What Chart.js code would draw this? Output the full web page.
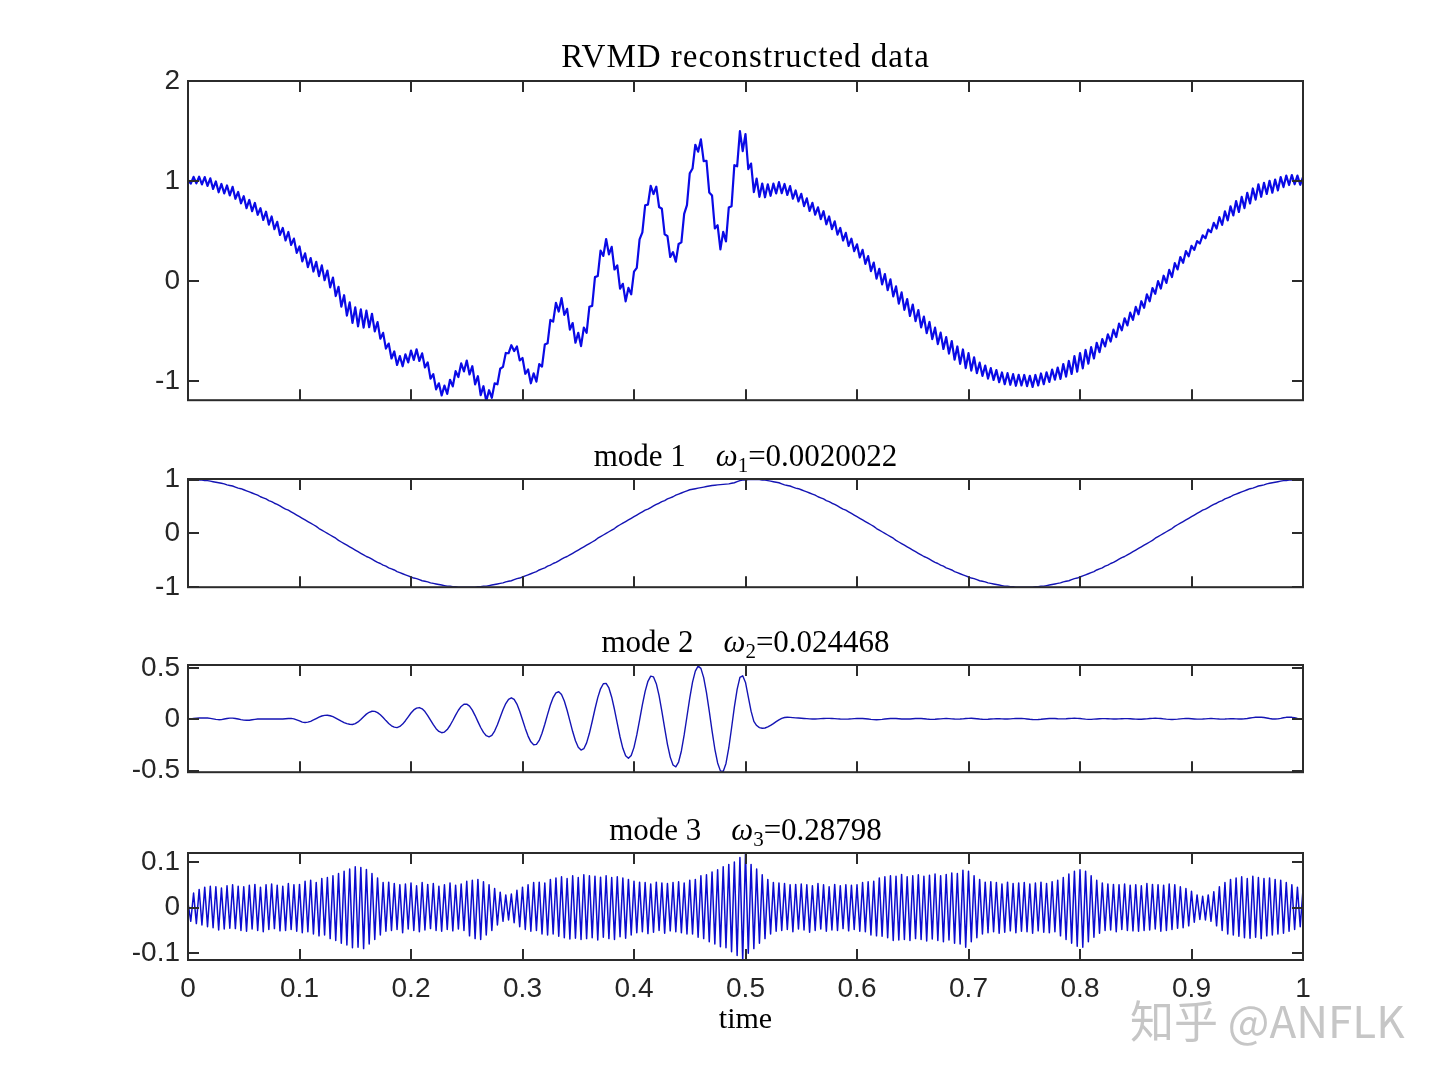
<!DOCTYPE html>
<html>
<head>
<meta charset="utf-8">
<script src="https://cdn.jsdelivr.net/npm/chart.js@4.4.0/dist/chart.umd.min.js"></script>
<style>
  html, body { margin: 0; padding: 0; background: #fff; }
  #fig { position: relative; width: 1440px; height: 1080px; overflow: hidden; }
  #fig canvas { position: absolute; left: 0; }
  #mark { position: absolute; left: 1130px; top: 995px; font-family: "Noto Sans CJK SC", sans-serif;
          font-size: 44px; line-height: 48px; color: #c6c6c6; white-space: nowrap; }
</style>
</head>
<body>
<div id="fig">
  <canvas id="c0"></canvas>
  <canvas id="c1"></canvas>
  <canvas id="c2"></canvas>
  <canvas id="c3"></canvas>
  <div id="mark">知乎 @ANFLK</div>
</div>
<script>
// sample spacing of the time axis (401 samples from 0 to 1)
const dt = 0.0025;

// mode 1 (slow cosine)
const mode1 = [
  1.00,1.00,1.00,1.00,0.99,0.99,0.98,0.98,0.97,0.96,0.95,0.94,0.93,0.92,0.90,0.89,0.88,0.86,0.84,0.83,
  0.81,0.79,0.77,0.75,0.73,0.71,0.68,0.66,0.64,0.61,0.59,0.56,0.54,0.51,0.48,0.45,0.43,0.40,0.37,0.34,
  0.31,0.28,0.25,0.22,0.19,0.16,0.13,0.09,0.06,0.03,0.00,
  -0.03,-0.06,-0.09,-0.13,-0.16,-0.19,-0.22,-0.25,-0.28,-0.31,-0.34,-0.37,-0.40,-0.43,-0.45,-0.48,-0.51,-0.54,-0.56,-0.59,
  -0.61,-0.64,-0.66,-0.68,-0.71,-0.73,-0.75,-0.77,-0.79,-0.81,-0.83,-0.84,-0.86,-0.88,-0.89,-0.90,-0.92,-0.93,-0.94,-0.95,
  -0.96,-0.97,-0.98,-0.98,-0.99,-0.99,-1.00,-1.00,-1.00,-1.00,
  -1.00,-1.00,-1.00,-0.99,-0.99,-0.98,-0.98,-0.97,-0.96,-0.95,-0.94,-0.93,-0.92,-0.90,-0.89,-0.88,-0.86,-0.84,-0.83,-0.81,
  -0.79,-0.77,-0.75,-0.73,-0.71,-0.68,-0.66,-0.64,-0.61,-0.59,-0.56,-0.54,-0.51,-0.48,-0.45,-0.43,-0.40,-0.37,-0.34,-0.31,
  -0.28,-0.25,-0.22,-0.19,-0.16,-0.13,-0.09,-0.06,-0.03,0.00,
  0.03,0.06,0.09,0.13,0.16,0.19,0.22,0.25,0.28,0.31,0.34,0.37,0.40,0.43,0.45,0.48,0.51,0.54,0.56,0.59,
  0.61,0.64,0.66,0.68,0.71,0.73,0.75,0.77,0.79,
  0.81,0.82,0.83,0.84,0.85,0.86,0.87,0.88,0.89,0.895,0.90,0.905,0.91,0.915,0.92,0.93,0.94,0.96,0.98,0.99,
  0.99,1.00,1.00,1.00,1.00,1.00,0.99,0.99,0.98,0.97,0.96,0.95,0.94,0.92,0.90,0.89,0.88,
  0.86,0.84,0.83,0.81,0.79,0.77,0.75,0.73,0.71,0.68,0.66,0.64,0.61,0.59,0.56,0.54,0.51,0.48,0.45,0.43,
  0.40,0.37,0.34,0.31,0.28,0.25,0.22,0.19,0.16,0.13,0.09,0.06,0.03,0.00,
  -0.03,-0.06,-0.09,-0.13,-0.16,-0.19,-0.22,-0.25,-0.28,-0.31,-0.34,-0.37,-0.40,-0.43,-0.45,-0.48,-0.51,-0.54,-0.56,-0.59,
  -0.61,-0.64,-0.66,-0.68,-0.71,-0.73,-0.75,-0.77,-0.79,-0.81,-0.83,-0.84,-0.86,-0.88,-0.89,-0.90,-0.92,-0.93,-0.94,-0.95,
  -0.96,-0.97,-0.98,-0.98,-0.99,-0.99,-1.00,-1.00,-1.00,-1.00,
  -1.00,-1.00,-1.00,-0.99,-0.99,-0.98,-0.98,-0.97,-0.96,-0.95,-0.94,-0.93,-0.92,-0.90,-0.89,-0.88,-0.86,-0.84,-0.83,-0.81,
  -0.79,-0.77,-0.75,-0.73,-0.71,-0.68,-0.66,-0.64,-0.61,-0.59,-0.56,-0.54,-0.51,-0.48,-0.45,-0.43,-0.40,-0.37,-0.34,-0.31,
  -0.28,-0.25,-0.22,-0.19,-0.16,-0.13,-0.09,-0.06,-0.03,0.00,
  0.03,0.06,0.09,0.13,0.16,0.19,0.22,0.25,0.28,0.31,0.34,0.37,0.40,0.43,0.45,0.48,0.51,0.54,0.56,0.59,
  0.61,0.64,0.66,0.68,0.71,0.73,0.75,0.77,0.79,0.81,0.83,0.84,0.86,0.88,0.89,0.90,0.92,0.93,0.94,0.95,
  0.96,0.97,0.98,0.98,0.99,0.99,1.00,1.00,1.00,1.00
];

// mode 2 (burst growing up to t = 0.5)
const mode2 = [
  0.0,0.005,0.01,0.012,0.013,0.014,0.015,0.013,0.01,0.005,0.0,-0.003,-0.002,0.003,0.008,0.012,0.012,0.009,0.004,-0.002,
  -0.007,-0.009,-0.008,-0.004,0.0,0.003,0.004,0.005,0.004,0.003,0.004,0.005,0.004,0.003,0.004,0.006,0.008,0.01,0.005,-0.005,
  -0.015,-0.027,-0.03,-0.027,-0.019,-0.006,0.008,0.022,0.033,0.039,0.04,0.035,0.026,0.013,-0.002,-0.017,-0.031,-0.042,-0.048,-0.05,
  -0.042,-0.025,-0.001,0.026,0.051,0.069,0.079,0.078,0.066,0.045,0.018,-0.012,-0.04,-0.063,-0.076,-0.08,-0.069,-0.046,-0.013,0.025,
  0.062,0.092,0.11,0.115,0.103,0.076,0.037,-0.008,-0.052,-0.091,-0.118,-0.13,-0.124,-0.099,-0.06,-0.011,0.041,0.089,0.126,0.147,
  0.148,0.129,0.09,0.037,-0.022,-0.079,-0.127,-0.159,-0.17,-0.156,-0.114,-0.053,0.02,0.093,0.154,0.196,0.21,0.194,0.149,0.08,
  -0.003,-0.088,-0.163,-0.219,-0.247,-0.244,-0.205,-0.136,-0.048,0.049,0.14,0.213,0.259,0.269,0.242,0.179,0.089,-0.015,-0.119,-0.209,
  -0.272,-0.299,-0.286,-0.229,-0.136,-0.021,0.101,0.212,0.298,0.347,0.351,0.306,0.216,0.096,-0.04,-0.172,-0.282,-0.355,-0.38,-0.352,
  -0.273,-0.152,-0.008,0.141,0.273,0.371,0.421,0.414,0.348,0.231,0.079,-0.086,-0.243,-0.368,-0.445,-0.463,-0.416,-0.308,-0.152,0.028,
  0.207,0.363,0.471,0.519,0.497,0.407,0.261,0.08,-0.113,-0.289,-0.425,-0.502,-0.508,-0.43,-0.279,-0.084,0.119,0.292,0.41,0.425,
  0.36,0.22,0.08,-0.02,-0.06,-0.08,-0.087,-0.084,-0.074,-0.059,-0.041,-0.022,-0.005,0.009,0.018,0.02,0.019,0.017,0.015,0.013,
  0.011,0.009,0.007,0.005,0.004,0.004,0.005,0.007,0.009,0.01,0.01,0.009,0.007,0.005,0.003,0.002,0.002,0.003,0.005,0.007,
  0.008,0.009,0.008,0.006,0.003,0.0,-0.002,-0.003,-0.002,0.0,0.003,0.006,0.008,0.009,0.008,0.006,0.004,0.003,0.003,0.004,
  0.006,0.008,0.009,0.008,0.006,0.003,0.001,0.0,0.001,0.003,0.005,0.007,0.008,0.007,0.005,0.003,0.002,0.003,0.005,0.008,
  0.01,0.011,0.009,0.006,0.003,0.001,0.0,0.001,0.003,0.005,0.006,0.006,0.005,0.004,0.004,0.005,0.007,0.009,0.01,0.009,
  0.007,0.004,0.001,-0.001,-0.002,-0.001,0.001,0.004,0.006,0.008,0.009,0.008,0.006,0.005,0.005,0.006,0.008,0.01,0.011,0.01,
  0.008,0.005,0.002,0.0,0.0,0.002,0.004,0.006,0.007,0.007,0.006,0.005,0.004,0.004,0.005,0.006,0.007,0.007,0.006,0.004,
  0.002,0.001,0.001,0.003,0.005,0.008,0.01,0.011,0.01,0.008,0.005,0.002,0.0,-0.001,0.0,0.002,0.005,0.007,0.008,0.008,
  0.006,0.004,0.002,0.002,0.003,0.005,0.007,0.008,0.007,0.005,0.003,0.002,0.003,0.005,0.006,0.006,0.005,0.004,0.004,0.006,
  0.009,0.013,0.017,0.02,0.022,0.021,0.018,0.013,0.008,0.004,0.003,0.005,0.01,0.016,0.02,0.022,0.02,0.016,0.01,0.005,
  0.0
];

// mode 3 (fast oscillation)
const mode3 = [
  0.01,-0.03,0.032,-0.035,0.04,-0.038,0.045,-0.042,0.047,-0.044,0.046,-0.049,0.043,-0.047,0.048,-0.045,0.05,-0.046,0.047,-0.05,
  0.046,-0.052,0.049,-0.047,0.051,-0.05,0.045,-0.053,0.05,-0.048,0.052,-0.046,0.049,-0.051,0.047,-0.05,0.053,-0.048,0.05,-0.052,
  0.051,-0.055,0.058,-0.053,0.06,-0.058,0.055,-0.062,0.064,-0.06,0.066,-0.068,0.07,-0.072,0.075,-0.078,0.08,-0.082,0.085,-0.088,
  0.09,-0.087,0.088,-0.09,0.084,-0.08,0.075,-0.07,0.065,-0.06,0.055,-0.052,0.056,-0.05,0.053,-0.048,0.05,-0.055,0.052,-0.047,
  0.054,-0.05,0.048,-0.053,0.055,-0.049,0.051,-0.046,0.053,-0.05,0.047,-0.052,0.05,-0.048,0.054,-0.051,0.049,-0.047,0.052,-0.05,
  0.058,-0.062,0.06,-0.068,0.062,-0.07,0.057,-0.06,0.05,-0.05,0.042,-0.038,0.034,-0.03,0.028,-0.027,0.03,-0.033,0.038,-0.042,
  0.045,-0.048,0.05,-0.052,0.055,-0.05,0.056,-0.058,0.054,-0.06,0.062,-0.058,0.065,-0.063,0.068,-0.066,0.064,-0.069,0.07,-0.067,
  0.066,-0.07,0.072,-0.068,0.07,-0.066,0.069,-0.071,0.067,-0.065,0.07,-0.068,0.066,-0.07,0.068,-0.064,0.065,-0.067,0.062,-0.06,
  0.058,-0.055,0.056,-0.053,0.055,-0.057,0.052,-0.054,0.056,-0.05,0.054,-0.056,0.053,-0.051,0.055,-0.053,0.057,-0.055,0.054,-0.058,
  0.06,-0.058,0.062,-0.065,0.07,-0.068,0.072,-0.075,0.078,-0.08,0.083,-0.086,0.09,-0.088,0.095,-0.097,0.1,-0.105,0.11,-0.115,
  0.12,-0.1,0.095,-0.09,0.085,-0.078,0.072,-0.068,0.062,-0.058,0.055,-0.052,0.054,-0.05,0.053,-0.048,0.05,-0.053,0.051,-0.047,
  0.052,-0.049,0.05,-0.054,0.048,-0.05,0.053,-0.047,0.05,-0.052,0.046,-0.049,0.051,-0.05,0.048,-0.046,0.05,-0.051,0.049,-0.048,
  0.05,-0.052,0.055,-0.053,0.057,-0.06,0.058,-0.062,0.065,-0.063,0.068,-0.066,0.07,-0.072,0.069,-0.071,0.073,-0.07,0.068,-0.072,
  0.07,-0.068,0.072,-0.07,0.069,-0.073,0.071,-0.069,0.074,-0.072,0.07,-0.075,0.073,-0.071,0.076,-0.078,0.075,-0.08,0.082,-0.087,
  0.08,-0.075,0.07,-0.066,0.062,-0.058,0.056,-0.055,0.057,-0.053,0.055,-0.056,0.052,-0.054,0.056,-0.051,0.053,-0.055,0.054,-0.052,
  0.055,-0.053,0.052,-0.056,0.054,-0.051,0.056,-0.054,0.053,-0.055,0.057,-0.053,0.06,-0.062,0.066,-0.07,0.074,-0.078,0.08,-0.085,
  0.083,-0.087,0.08,-0.075,0.07,-0.065,0.06,-0.056,0.054,-0.05,0.052,-0.049,0.051,-0.053,0.05,-0.048,0.052,-0.05,0.049,-0.051,
  0.05,-0.052,0.048,-0.05,0.053,-0.049,0.051,-0.047,0.05,-0.052,0.049,-0.05,0.052,-0.048,0.05,-0.045,0.046,-0.044,0.042,-0.04,
  0.036,-0.032,0.028,-0.026,0.025,-0.027,0.028,-0.03,0.035,-0.04,0.046,-0.05,0.055,-0.058,0.062,-0.06,0.065,-0.063,0.068,-0.066,
  0.064,-0.067,0.069,-0.065,0.066,-0.068,0.064,-0.062,0.065,-0.06,0.062,-0.058,0.06,-0.056,0.055,-0.052,0.05,-0.048,0.045,-0.042,
  0.04
];

// tick labels
const timeTicks = [0, 0.1, 0.2, 0.3, 0.4, 0.5, 0.6, 0.7, 0.8, 0.9, 1];
const reconTicks = [-1, 0, 1, 2];
const mode1Ticks = [-1, 0, 1];
const mode2Ticks = [-0.5, 0, 0.5];
const mode3Ticks = [-0.1, 0, 0.1];

// titles
const mainTitle = 'RVMD reconstructed data';
const modeNames = ['mode 1', 'mode 2', 'mode 3'];
const omegas = ['0.0020022', '0.024468', '0.28798'];
const xTitle = 'time';

// the reconstructed signal is the sum of the three modes
const recon = mode1.map((v, i) => v + mode2[i] + mode3[i]);

const SERIF = '"Liberation Serif", "DejaVu Serif", serif';
const SANS = '"Liberation Sans", Arial, sans-serif';
const AXIS = '#2b2b2b';
const TICK = 11;

// box around the axes with inward tick marks on all four sides
const boxPlugin = {
  id: 'matlabBox',
  afterDatasetsDraw(chart) {
    const { ctx, chartArea: a, scales } = chart;
    ctx.save();
    ctx.strokeStyle = AXIS;
    ctx.lineWidth = 2;
    ctx.beginPath();
    scales.x.ticks.forEach(t => {
      const px = Math.round(scales.x.getPixelForValue(t.value));
      ctx.moveTo(px, a.top); ctx.lineTo(px, a.top + TICK);
      ctx.moveTo(px, a.bottom); ctx.lineTo(px, a.bottom - TICK);
    });
    scales.y.ticks.forEach(t => {
      const py = Math.round(scales.y.getPixelForValue(t.value));
      ctx.moveTo(a.left, py); ctx.lineTo(a.left + TICK, py);
      ctx.moveTo(a.right, py); ctx.lineTo(a.right - TICK, py);
    });
    ctx.stroke();
    ctx.strokeRect(a.left, a.top, a.right - a.left, a.bottom - a.top);
    ctx.restore();
  }
};

// title made of pieces (regular, italic, subscript)
const titlePlugin = {
  id: 'pieceTitle',
  afterDraw(chart, args, opts) {
    const { ctx, chartArea: a } = chart;
    ctx.save();
    ctx.fillStyle = '#000';
    ctx.textBaseline = 'alphabetic';
    ctx.letterSpacing = opts.spacing || '0px';
    let total = 0;
    opts.parts.forEach(p => {
      if (p.gap) { p.w = p.gap; }
      else { ctx.font = p.font; p.w = ctx.measureText(p.text).width; }
      total += p.w;
    });
    let x = (a.left + a.right) / 2 - total / 2;
    const y = a.top - opts.offset;
    opts.parts.forEach(p => {
      if (!p.gap) {
        ctx.font = p.font;
        ctx.fillText(p.text, x, y + (p.dy || 0));
      }
      x += p.w;
    });
    if (opts.xTitle) {
      ctx.letterSpacing = '0px';
      ctx.font = '30px ' + SERIF;
      ctx.textAlign = 'center';
      ctx.fillText(opts.xTitle, (a.left + a.right) / 2, a.bottom + 68);
    }
    ctx.restore();
  }
};

function modeTitle(i) {
  return [
    { text: modeNames[i], font: '31px ' + SERIF },
    { gap: 30 },
    { text: 'ω', font: 'italic 31px ' + SERIF },
    { text: String(i + 1), font: '21px ' + SERIF, dy: 6 },
    { text: '=' + omegas[i], font: '31px ' + SERIF }
  ];
}

const panels = [
  { id: 'c0', top: 81, bottom: 401, ymin: -1.19, ymax: 2, ticks: reconTicks, values: recon, lw: 2.2,
    color: '#0a0ae6', title: [{ text: mainTitle, font: '33px ' + SERIF }], offset: 14, spacing: '1px' },
  { id: 'c1', top: 479, bottom: 588, ymin: -1.0, ymax: 1.01, ticks: mode1Ticks, values: mode1, lw: 1.4,
    color: '#1414b4', title: modeTitle(0), offset: 13 },
  { id: 'c2', top: 665, bottom: 773, ymin: -0.515, ymax: 0.53, ticks: mode2Ticks, values: mode2, lw: 1.4,
    color: '#1414b4', title: modeTitle(1), offset: 13 },
  { id: 'c3', top: 853, bottom: 960, ymin: -0.115, ymax: 0.12, ticks: mode3Ticks, values: mode3, lw: 1.5,
    color: '#0c0cd0', title: modeTitle(2), offset: 13, last: true }
];

panels.forEach(p => {
  const padTop = 50;
  const padBottom = p.last ? 6 : 24;
  const xH = p.last ? 104 : 0;
  const h = (p.bottom - p.top) + padTop + padBottom + xH;
  const cv = document.getElementById(p.id);
  cv.width = 1440; cv.height = h;
  cv.style.width = '1440px'; cv.style.height = h + 'px';
  cv.style.top = (p.top - padTop) + 'px';

  new Chart(cv, {
    type: 'line',
    data: {
      datasets: [{
        data: p.values.map((v, i) => ({ x: i * dt, y: v })),
        borderColor: p.color,
        borderWidth: p.lw,
        borderJoinStyle: 'round',
        pointRadius: 0,
        tension: 0,
        fill: false
      }]
    },
    plugins: [boxPlugin, titlePlugin],
    options: {
      responsive: false,
      animation: false,
      events: [],
      layout: { padding: { top: padTop, bottom: padBottom, left: 0, right: 137 } },
      plugins: {
        legend: { display: false },
        tooltip: { enabled: false },
        title: { display: false },
        pieceTitle: { parts: p.title, offset: p.offset, spacing: p.spacing, xTitle: p.last ? xTitle : null }
      },
      scales: {
        x: {
          type: 'linear', min: 0, max: 1,
          grid: { display: false, drawTicks: false },
          border: { display: false },
          afterBuildTicks: s => { s.ticks = timeTicks.map(v => ({ value: v })); },
          afterFit: s => { s.height = xH; },
          ticks: {
            display: !!p.last,
            padding: 12,
            color: '#262626',
            font: { family: SANS, size: 28 },
            maxRotation: 0,
            autoSkip: false,
            callback: v => String(Number(v.toFixed(1)))
          }
        },
        y: {
          min: p.ymin, max: p.ymax,
          grid: { display: false, drawTicks: false },
          border: { display: false },
          afterBuildTicks: s => { s.ticks = p.ticks.map(v => ({ value: v })); },
          afterFit: s => { s.width = 188; },
          ticks: {
            padding: 8,
            color: '#262626',
            font: { family: SANS, size: 28 },
            callback: v => String(v)
          }
        }
      }
    }
  });
});
</script>
</body>
</html>
